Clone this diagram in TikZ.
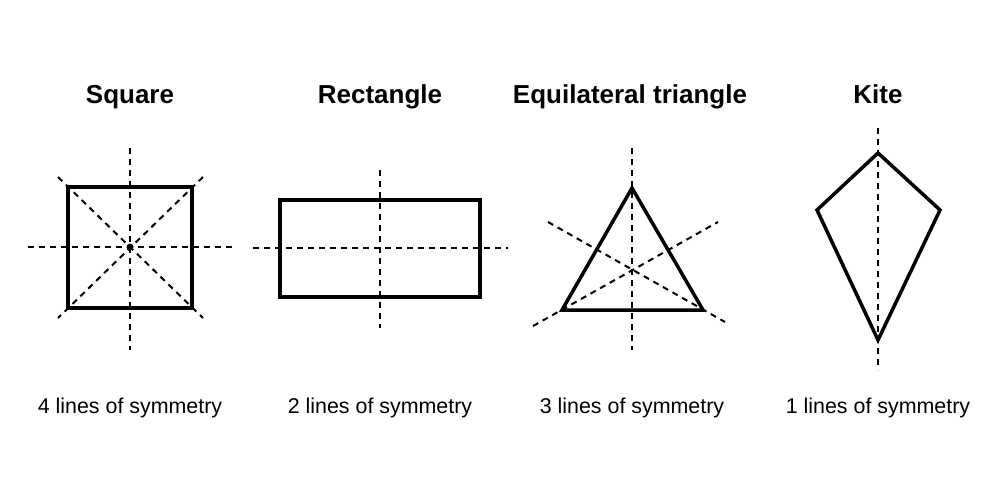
\documentclass[tikz,border=0pt]{standalone}
\usepackage{fontspec}
\setmainfont{Liberation Sans}
\begin{document}
\begin{tikzpicture}[x=1pt,y=-1pt,
  outl/.style={line width=3.5pt,line join=miter},
  sym/.style={line width=2pt,dash pattern=on 6pt off 5pt},
  ttl/.style={anchor=base,font=\fontsize{26}{30}\selectfont\bfseries},
  lbl/.style={anchor=base,font=\fontsize{21.4}{25}\selectfont}]
\useasboundingbox (0,0) rectangle (1000,500);
% Square
\coordinate (s1) at (130,148); \coordinate (s2) at (130,350);
\coordinate (s3) at (28,247); \coordinate (s4) at (235,247);
\coordinate (s5) at (58,177); \coordinate (s6) at (203,318);
\coordinate (s7) at (203,177); \coordinate (s8) at (58,318);
\draw[sym] (s1)--(s2); \draw[sym] (s3)--(s4);
\draw[sym] (s5)--(s6); \draw[sym] (s7)--(s8);
\draw[outl] (68,187) rectangle (192,308);
\fill (130,247) circle (3.5);
\node[ttl] (t1) at (130,103) {Square};
\node[lbl] (l1) at (130,413) {4 lines of symmetry};
% Rectangle
\coordinate (r1) at (380,170); \coordinate (r2) at (380,328);
\coordinate (r3) at (253,248); \coordinate (r4) at (508,248);
\draw[sym] (r1)--(r2); \draw[sym] (r3)--(r4);
\draw[outl] (280,200) rectangle (480,297);
\node[ttl] (t2) at (380,103) {Rectangle};
\node[lbl] (l2) at (380,413) {2 lines of symmetry};
% Triangle
\coordinate (a1) at (632,148); \coordinate (a2) at (632,350);
\coordinate (a3) at (548,222); \coordinate (a4) at (725,322);
\coordinate (a5) at (533,326); \coordinate (a6) at (718,222);
\draw[sym] (a1)--(a2); \draw[sym] (a3)--(a4); \draw[sym] (a5)--(a6);
\draw[outl] (632,188)--(562,310)--(703,310)--cycle;
\node[ttl] (t3) at (630,103) {Equilateral triangle};
\node[lbl] (l3) at (632,413) {3 lines of symmetry};
% Kite
\coordinate (k1) at (878,128); \coordinate (k2) at (878,370);
\draw[sym] (k1)--(k2);
\draw[outl] (878,153)--(940,210)--(878,340)--(817,210)--cycle;
\node[ttl] (t4) at (878,103) {Kite};
\node[lbl] (l4) at (878,413) {1 lines of symmetry};
\end{tikzpicture}
\end{document}
